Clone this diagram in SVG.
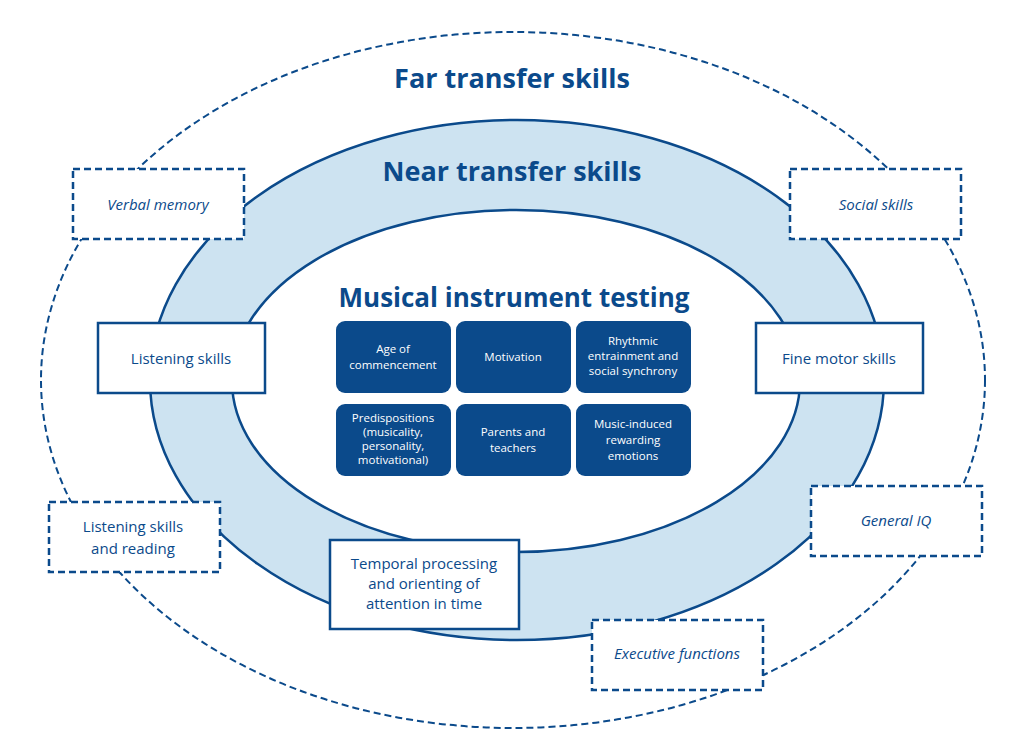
<svg xmlns="http://www.w3.org/2000/svg" width="1024" height="753" viewBox="0 0 1024 753">
<style>
text{font-family:"Open Sans","Liberation Sans",sans-serif;fill:#0b4a8b;text-anchor:middle}
.t{font-weight:bold}
.solid{fill:#fff;stroke:#0b4a8b;stroke-width:2.5}
.dash{fill:#fff;stroke:#0b4a8b;stroke-width:2.5;stroke-dasharray:7 4}
.it{font-style:italic;font-size:15px}
.n{font-size:15px}
.b rect{fill:#0b4a8b}
.b text{fill:#fff;font-size:11.5px}
</style>
<rect width="1024" height="753" fill="#fff"/>
<g id="rings">
<ellipse cx="513" cy="380" rx="472" ry="348" fill="none" stroke="#0b4a8b" stroke-width="2" stroke-dasharray="7 4"/>
<ellipse cx="517" cy="380" rx="367" ry="260" fill="#cde3f1" stroke="#0b4a8b" stroke-width="2.5"/>
<ellipse cx="516" cy="381" rx="284" ry="171" fill="#fff" stroke="#0b4a8b" stroke-width="2.5"/>
<text x="512" y="88" class="t" font-size="27">Far transfer skills</text>
<text x="512" y="181" class="t" font-size="27">Near transfer skills</text>
<text x="514" y="307" class="t" font-size="26">Musical instrument testing</text>
</g>
<g id="verbal"><rect class="dash" x="73" y="169" width="171" height="70"/><text class="it" x="158" y="210">Verbal memory</text></g>
<g id="social"><rect class="dash" x="790" y="169" width="171" height="70"/><text class="it" x="876" y="210">Social skills</text></g>
<g id="listening"><rect class="solid" x="98" y="323" width="167" height="70"/><text class="n" x="181" y="364">Listening skills</text></g>
<g id="finemotor"><rect class="solid" x="756" y="323" width="167" height="70"/><text class="n" x="839" y="364">Fine motor skills</text></g>
<g id="listenread"><rect class="dash" x="49" y="502" width="171" height="70"/><text class="n" x="133" y="532">Listening skills</text><text class="n" x="133" y="554">and reading</text></g>
<g id="iq"><rect class="dash" x="811" y="486" width="171" height="70"/><text class="it" x="896" y="526">General IQ</text></g>
<g id="temporal"><rect class="solid" x="330" y="540" width="189" height="89"/><text class="n" x="424" y="569">Temporal processing</text><text class="n" x="424" y="589">and orienting of</text><text class="n" x="424" y="609">attention in time</text></g>
<g id="exec"><rect class="dash" x="592" y="620" width="171" height="70"/><text class="it" x="677" y="659">Executive functions</text></g>
<g class="b">
<g id="age"><rect x="336" y="321" width="115" height="72" rx="9"/><text x="393" y="353">Age of</text><text x="393" y="369">commencement</text></g>
<g id="motivation"><rect x="456" y="321" width="115" height="72" rx="9"/><text x="513" y="361">Motivation</text></g>
<g id="rhythmic"><rect x="576" y="321" width="115" height="72" rx="9"/><text x="633" y="345">Rhythmic</text><text x="633" y="360">entrainment and</text><text x="633" y="375">social synchrony</text></g>
<g id="predisp"><rect x="336" y="404" width="115" height="72" rx="9"/><text x="393" y="422" font-size="10.5">Predispositions</text><text x="393" y="436">(musicality,</text><text x="393" y="450">personality,</text><text x="393" y="464">motivational)</text></g>
<g id="parents"><rect x="456" y="404" width="115" height="72" rx="9"/><text x="513" y="436">Parents and</text><text x="513" y="452">teachers</text></g>
<g id="reward"><rect x="576" y="404" width="115" height="72" rx="9"/><text x="633" y="428">Music-induced</text><text x="633" y="444">rewarding</text><text x="633" y="460">emotions</text></g>
</g>
<g id="connectors"></g>
</svg>
